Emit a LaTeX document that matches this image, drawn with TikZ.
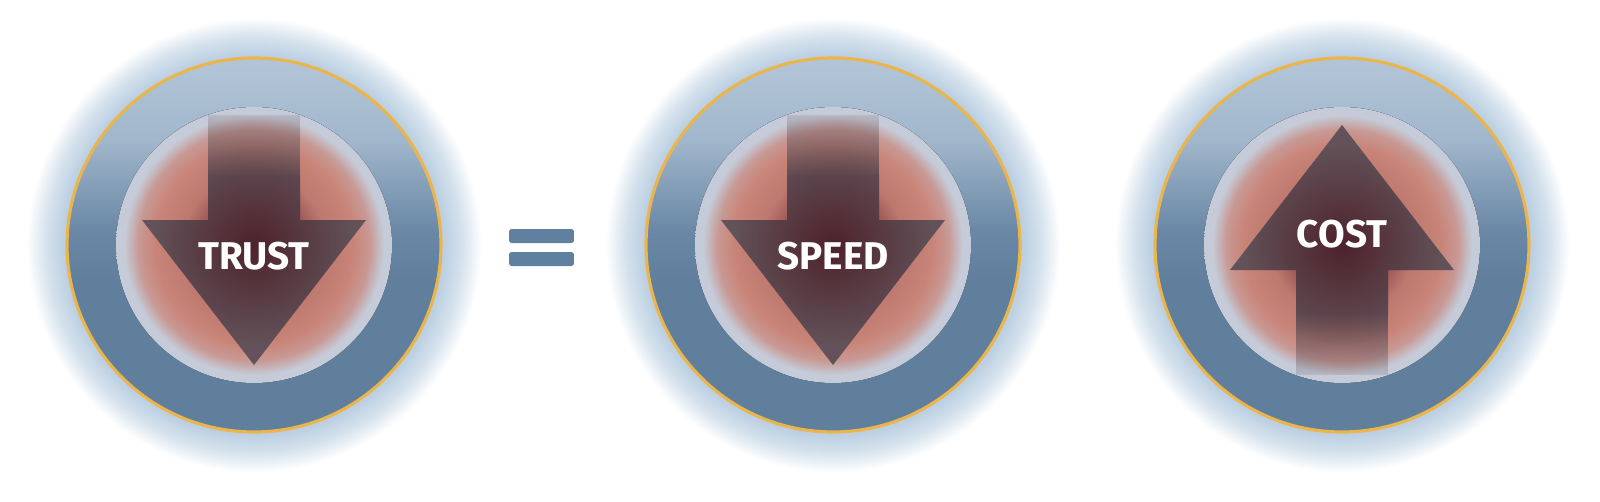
\documentclass[tikz,border=0pt]{standalone}
\usepackage{fontspec}
\newfontfamily\badgefont{Fira Sans}
\usetikzlibrary{fadings}

\definecolor{haloblue}{HTML}{BCD0E2}
\definecolor{ringdark}{HTML}{5F7F9C}
\definecolor{ringmid}{HTML}{6A88A5}
\definecolor{ringlight}{HTML}{B3C6D8}
\definecolor{rimgold}{HTML}{E9B54C}
\definecolor{coredark}{HTML}{521F29}
\definecolor{coremaroon}{HTML}{7A3A3E}
\definecolor{coresalmon}{HTML}{C98478}
\definecolor{corepale}{HTML}{C5CBD8}
\definecolor{arrowgrey}{HTML}{635259}
\definecolor{glowred}{HTML}{4A1A24}
\definecolor{eqblue}{HTML}{5F809F}

% shadings: the path box is the central 50bp square
\pgfdeclareradialshading{haloshade}{\pgfpoint{0bp}{0bp}}{color(0bp)=(haloblue); color(20.5bp)=(haloblue); color(22.5bp)=(haloblue!60!white); color(24.5bp)=(white); color(50bp)=(white)}
\pgfdeclareverticalshading{ringshade}{100bp}{color(0bp)=(ringdark); color(45bp)=(ringdark); color(52bp)=(ringmid); color(64bp)=(ringlight!75!ringmid); color(75bp)=(ringlight); color(100bp)=(ringlight)}
\pgfdeclareradialshading{coreshade}{\pgfpoint{0bp}{0bp}}{color(0bp)=(coredark); color(6bp)=(coremaroon); color(13bp)=(coresalmon!85!coremaroon); color(18bp)=(coresalmon); color(21bp)=(coresalmon!70!corepale); color(23.5bp)=(corepale); color(50bp)=(corepale)}

\tikzfading[name=tailtop, top color=transparent!85, bottom color=transparent!0]
\tikzfading[name=tailbottom, top color=transparent!0, bottom color=transparent!85]
\tikzfading[name=glowfade, inner color=transparent!15, outer color=transparent!100]

\tikzset{
  rim/.style={draw=rimgold,line width=1.8pt},
  arrowbody/.style={fill=arrowgrey},
  badgeword/.style={text=white,inner sep=0pt,font=\badgefont\bfseries\fontsize{22}{26}\selectfont},
  eqbar/.style={fill=eqblue,rounded corners=1.5pt,inner sep=0pt,minimum width=1.3cm,minimum height=0.28cm}
}

\begin{document}
\begin{tikzpicture}[x=0.02cm,y=-0.02cm]
      \useasboundingbox (0,0) rectangle (1600,501);

      \foreach \nm/\cx/\dir/\side/\word in {trust/254/1/top/TRUST, speed/833/1/top/SPEED, cost/1342/-1/bottom/COST}{
        \coordinate (\nm) at (\cx,245);
        \fill[shading=haloshade] (\nm) circle (232);
        \draw[white,line width=2pt] (\nm) circle (232);
        \fill[shading=ringshade] (\nm) circle (187);
        \draw[rim] (\nm) circle (187);
        \fill[shading=coreshade] (\nm) circle (138);

        % stem fades out at its tail
        \fill[arrowbody,path fading=tail\side] ({\cx-46},{245-130*\dir}) rectangle ({\cx+46},{245-66*\dir});
        \fill[arrowbody] ({\cx-46},{245-70*\dir}) -- ({\cx-46},{245-25*\dir}) -- ({\cx-112},{245-25*\dir})
          -- (\cx,{245+120*\dir}) -- ({\cx+112},{245-25*\dir}) -- ({\cx+46},{245-25*\dir}) -- ({\cx+46},{245-70*\dir}) -- cycle;

        \begin{scope}
          \clip ({\cx-46},{245-130*\dir}) -- ({\cx-46},{245-25*\dir}) -- ({\cx-112},{245-25*\dir})
            -- (\cx,{245+120*\dir}) -- ({\cx+112},{245-25*\dir}) -- ({\cx+46},{245-25*\dir}) -- ({\cx+46},{245-130*\dir}) -- cycle;
          \fill[glowred,path fading=glowfade] (\nm) circle (100);
        \end{scope}

        \node[badgeword] (\nm word) at (\cx,{245+11*\dir}) {\word};
      }

      \node[eqbar] (eqtop) at (541.5,236) {};
      \node[eqbar] (eqbottom) at (541.5,259) {};

\end{tikzpicture}
\end{document}
